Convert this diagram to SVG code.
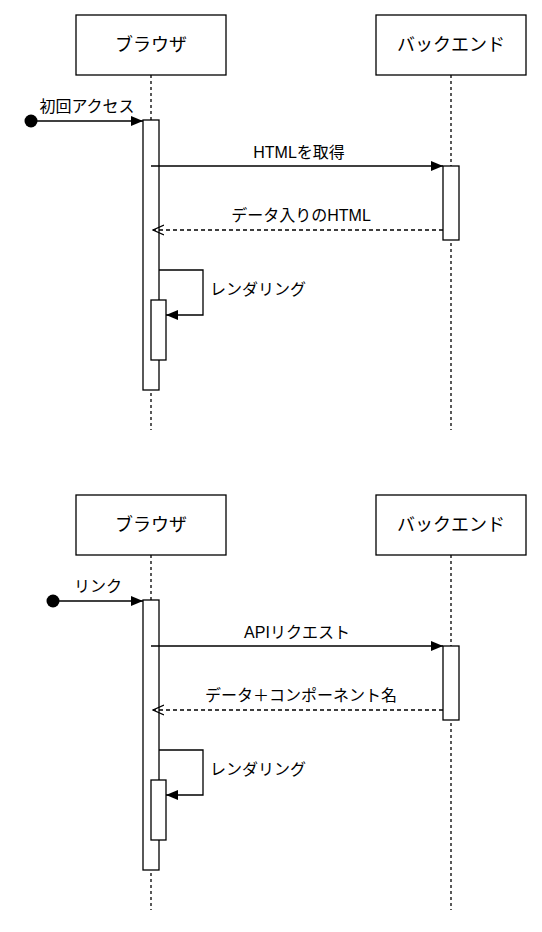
<svg xmlns="http://www.w3.org/2000/svg" width="542" height="932" viewBox="0 0 542 932">
<defs>
<style>
.box{fill:#fff;stroke:#000;stroke-width:1.3}
.act{fill:#fff;stroke:#000;stroke-width:1.3}
.life{stroke:#000;stroke-width:1.3;stroke-dasharray:3 3;fill:none}
.msg{stroke:#000;stroke-width:1.3;fill:none}
.ret{stroke:#000;stroke-width:1.3;fill:none;stroke-dasharray:4 3}
.t{font-family:"Liberation Sans","Noto Sans CJK JP",sans-serif;fill:#000}
.bt{font-size:18px;text-anchor:middle}
.lt{font-size:16px}
.mid{text-anchor:middle}
</style>
<marker id="fill" viewBox="0 0 12 10" refX="12" refY="5" markerWidth="12" markerHeight="10" markerUnits="userSpaceOnUse" orient="auto">
<path d="M0,0 L12,5 L0,10 Z" fill="#000"/>
</marker>
<marker id="open" viewBox="0 0 12 12" refX="11" refY="6" markerWidth="12" markerHeight="12" markerUnits="userSpaceOnUse" orient="auto">
<path d="M0,1 L11,6 L0,11" fill="none" stroke="#000" stroke-width="1.3"/>
</marker>
</defs>

<g id="lifelines">
<line class="life" x1="151" y1="75" x2="151" y2="430"/>
<line class="life" x1="451" y1="75" x2="451" y2="430"/>
<line class="life" x1="151" y1="555" x2="151" y2="910"/>
<line class="life" x1="451" y1="555" x2="451" y2="910"/>
</g>

<g id="browser1"><rect class="box" x="76" y="15" width="150" height="60"/><text class="t bt" x="151" y="51">ブラウザ</text></g>
<g id="backend1"><rect class="box" x="376" y="15" width="150" height="60"/><text class="t bt" x="451" y="51">バックエンド</text></g>
<g id="browser2"><rect class="box" x="76" y="495" width="150" height="60"/><text class="t bt" x="151" y="531">ブラウザ</text></g>
<g id="backend2"><rect class="box" x="376" y="495" width="150" height="60"/><text class="t bt" x="451" y="531">バックエンド</text></g>

<g id="act1"><rect class="act" x="143" y="120" width="16" height="270"/></g>
<g id="act1b"><rect class="act" x="443" y="166" width="16" height="74"/></g>
<g id="act1c"><rect class="act" x="151" y="300" width="15" height="60"/></g>
<g id="act2"><rect class="act" x="143" y="600" width="16" height="270"/></g>
<g id="act2b"><rect class="act" x="443" y="646" width="16" height="74"/></g>
<g id="act2c"><rect class="act" x="151" y="780" width="15" height="60"/></g>

<g id="start1"><circle cx="31" cy="121" r="6.5" fill="#000"/></g>
<g id="start2"><circle cx="53" cy="601" r="6.5" fill="#000"/></g>

<g id="connectors">
<line class="msg" x1="31" y1="121" x2="143" y2="121" marker-end="url(#fill)"/>
<line class="msg" x1="151" y1="166" x2="443" y2="166" marker-end="url(#fill)"/>
<line class="ret" x1="443" y1="230" x2="153" y2="230" marker-end="url(#open)"/>
<polyline class="msg" points="159,270 203,270 203,315 166,315" marker-end="url(#fill)"/>

<line class="msg" x1="53" y1="601" x2="143" y2="601" marker-end="url(#fill)"/>
<line class="msg" x1="151" y1="646" x2="443" y2="646" marker-end="url(#fill)"/>
<line class="ret" x1="443" y1="710" x2="153" y2="710" marker-end="url(#open)"/>
<polyline class="msg" points="159,750 203,750 203,795 166,795" marker-end="url(#fill)"/>
</g>

<g id="labels">
<text class="t lt mid" x="87" y="112">初回アクセス</text>
<text class="t lt mid" x="299" y="158">HTMLを取得</text>
<text class="t lt mid" x="301" y="221">データ入りのHTML</text>
<text class="t lt" x="210" y="295">レンダリング</text>
<text class="t lt mid" x="98" y="592">リンク</text>
<text class="t lt mid" x="297" y="638">APIリクエスト</text>
<text class="t lt mid" x="301" y="701">データ＋コンポーネント名</text>
<text class="t lt" x="210" y="775">レンダリング</text>
</g>
</svg>
